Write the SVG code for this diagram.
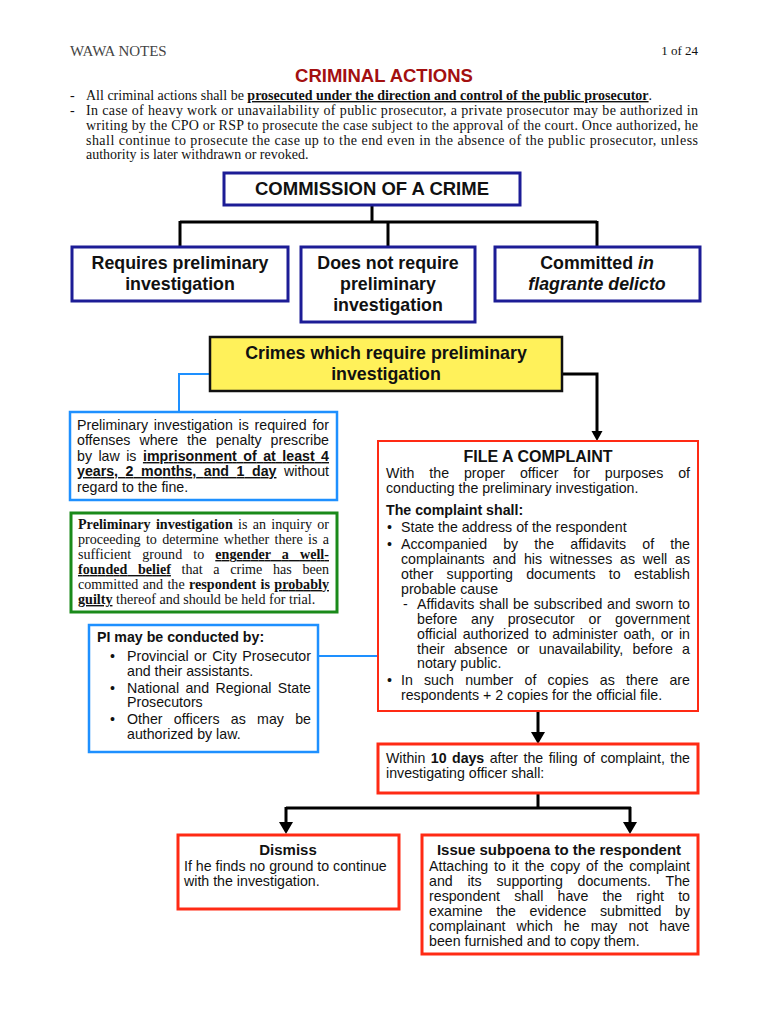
<svg xmlns="http://www.w3.org/2000/svg" width="768" height="1024" viewBox="0 0 768 1024">
<style>
.serif{font-family:"Liberation Serif","Times New Roman",serif;fill:#111}
.sans{font-family:"Liberation Sans",Arial,sans-serif;fill:#111}
.b{font-weight:bold}
.u{text-decoration:underline}
.h{font-size:17.8px;font-weight:bold;text-anchor:middle}
.t{font-size:14.2px}
.navy{fill:#fff;stroke:#1c1c96;stroke-width:3}
.lblue{fill:#fff;stroke:#1e90ff;stroke-width:2.5}
.green{fill:#fff;stroke:#1a8a1a;stroke-width:3}
.red{fill:#fff;stroke:#ff2a14;stroke-width:2}
.red2{fill:#fff;stroke:#ff2a14;stroke-width:3}
.blk{fill:none;stroke:#000;stroke-width:3}
.bl{fill:none;stroke:#1e90ff;stroke-width:2}
</style>
<rect width="768" height="1024" fill="#fff"/>

<g id="header">
<text x="70" y="56" class="serif" font-size="15" style="fill:#444">WAWA NOTES</text>
<text x="698" y="55" class="serif" font-size="13" text-anchor="end">1 of 24</text>
<text x="384" y="82" class="sans b" font-size="18.5" text-anchor="middle" style="fill:#a31010">CRIMINAL ACTIONS</text>
<g class="serif" font-size="14">
<text x="70" y="100">-</text>
<text x="86" y="100">All criminal actions shall be <tspan class="b u">prosecuted under the direction and control of the public prosecutor</tspan>.</text>
<text x="70" y="115">-</text>
<text x="86" y="115" textLength="612" lengthAdjust="spacing">In  case of heavy work or unavailability of public prosecutor, a private prosecutor may be authorized in</text>
<text x="86" y="130" textLength="612" lengthAdjust="spacing">writing by the CPO or RSP to prosecute the case subject to the approval of the court. Once authorized, he</text>
<text x="86" y="145" textLength="612" lengthAdjust="spacing">shall continue to prosecute the case up to the end even in the absence of the public prosecutor, unless</text>
<text x="86" y="159">authority is later withdrawn or revoked.</text>
</g>
</g>

<g id="connectors">
<path class="blk" d="M372,205 V222 M180,222 H597 M180,221 V247 M388,221 V247 M597,221 V247"/>
<path class="bl" d="M210,374 H179 V412"/>
<path class="blk" d="M562,374 H597 V432"/>
<path d="M591.5,431 H602.5 L597,441 Z" fill="#000"/>
<path class="bl" d="M318,656 H379"/>
<path class="blk" d="M538,711 V734"/>
<path d="M531,732 H545 L538,744 Z" fill="#000"/>
<path class="blk" d="M538,793 V808 M286,808 H631 M286,807 V824 M630,807 V824"/>
<path d="M279,822 H293 L286,834 Z" fill="#000"/>
<path d="M623,822 H637 L630,834 Z" fill="#000"/>
</g>

<g id="commission">
<rect class="navy" x="224" y="173" width="296" height="32"/>
<text x="372" y="195" class="sans h" style="font-size:18.5px">COMMISSION OF A CRIME</text>
</g>
<g id="requires">
<rect class="navy" x="72" y="247" width="216" height="54"/>
<text x="180" y="269" class="sans h">Requires preliminary</text>
<text x="180" y="290" class="sans h">investigation</text>
</g>
<g id="doesnot">
<rect class="navy" x="301" y="247" width="174" height="75"/>
<text x="388" y="269" class="sans h">Does not require</text>
<text x="388" y="290" class="sans h">preliminary</text>
<text x="388" y="311" class="sans h">investigation</text>
</g>
<g id="flagrante">
<rect class="navy" x="495" y="247" width="205" height="54"/>
<text x="597" y="269" class="sans h">Committed <tspan font-style="italic">in</tspan></text>
<text x="597" y="290" class="sans h" font-style="italic">flagrante delicto</text>
</g>
<g id="crimes">
<rect x="210" y="337" width="352" height="54" fill="#fff15a" stroke="#111" stroke-width="2.5"/>
<text x="386" y="359" class="sans h">Crimes which require preliminary</text>
<text x="386" y="380" class="sans h">investigation</text>
</g>
<g id="required">
<rect class="lblue" x="70" y="412" width="267" height="88"/>
<g class="sans t">
<text x="77" y="430" word-spacing="1.8" textLength="252" lengthAdjust="spacing">Preliminary investigation is required for</text>
<text x="77" y="445" word-spacing="5" textLength="252" lengthAdjust="spacing">offenses where the penalty prescribe</text>
<text x="77" y="461" word-spacing="2.5" textLength="252" lengthAdjust="spacing">by law is <tspan class="b u">imprisonment of at least 4</tspan></text>
<text x="77" y="476" word-spacing="3.6" textLength="252" lengthAdjust="spacing"><tspan class="b u">years, 2 months, and 1 day</tspan> without</text>
<text x="77" y="492">regard to the fine.</text>
</g>
</g>
<g id="definition">
<rect class="green" x="71" y="513" width="266" height="99"/>
<g class="serif" font-size="14.1">
<text x="78" y="529" word-spacing="1.7" textLength="251" lengthAdjust="spacing"><tspan class="b">Preliminary investigation</tspan> is an inquiry or</text>
<text x="78" y="544" word-spacing="1.8" textLength="251" lengthAdjust="spacing">proceeding to determine whether there is a</text>
<text x="78" y="559" word-spacing="7.5" textLength="251" lengthAdjust="spacing">sufficient ground to <tspan class="b u">engender a well-</tspan></text>
<text x="78" y="574" word-spacing="7.1" textLength="251" lengthAdjust="spacing"><tspan class="b u">founded belief</tspan> that a crime has been</text>
<text x="78" y="589" word-spacing="0.8" textLength="251" lengthAdjust="spacing">committed and the <tspan class="b">respondent is <tspan class="u">probably</tspan></tspan></text>
<text x="78" y="604"><tspan class="b u">guilty</tspan> thereof and should be held for trial.</text>
</g>
</g>
<g id="conductedby">
<rect class="lblue" x="89" y="625" width="229" height="127"/>
<g class="sans t">
<text x="97" y="642" class="b">PI may be conducted by:</text>
<text x="110" y="661">•</text>
<text x="127" y="661" word-spacing="1.6" textLength="184" lengthAdjust="spacing">Provincial or City Prosecutor</text>
<text x="127" y="676">and their assistants.</text>
<text x="110" y="693">•</text>
<text x="127" y="693" word-spacing="2.4" textLength="184" lengthAdjust="spacing">National and Regional State</text>
<text x="127" y="707">Prosecutors</text>
<text x="110" y="724">•</text>
<text x="127" y="724" word-spacing="7.3" textLength="184" lengthAdjust="spacing">Other officers as may be</text>
<text x="127" y="739">authorized by law.</text>
</g>
</g>
<g id="complaint">
<rect class="red" x="378" y="441" width="320" height="270"/>
<text x="538" y="462" class="sans b" font-size="16" text-anchor="middle">FILE A COMPLAINT</text>
<g class="sans t">
<text x="386" y="478" word-spacing="10.9" textLength="304" lengthAdjust="spacing">With the proper officer for purposes of</text>
<text x="386" y="493">conducting the preliminary investigation.</text>
<text x="386" y="515" class="b">The complaint shall:</text>
<text x="387" y="532">•</text>
<text x="401" y="532">State the address of the respondent</text>
<text x="387" y="549">•</text>
<text x="401" y="549" word-spacing="12.2" textLength="289" lengthAdjust="spacing">Accompanied by the affidavits of the</text>
<text x="401" y="564" word-spacing="3.8" textLength="289" lengthAdjust="spacing">complainants and his witnesses as well as</text>
<text x="401" y="579" word-spacing="9.3" textLength="289" lengthAdjust="spacing">other supporting documents to establish</text>
<text x="401" y="594">probable cause</text>
<text x="403" y="609">-</text>
<text x="417" y="609" word-spacing="0.8" textLength="273" lengthAdjust="spacing">Affidavits shall be subscribed and sworn to</text>
<text x="417" y="624" word-spacing="9.8" textLength="273" lengthAdjust="spacing">before any prosecutor or government</text>
<text x="417" y="639" word-spacing="1.7" textLength="273" lengthAdjust="spacing">official authorized to administer oath, or in</text>
<text x="417" y="654" word-spacing="5.2" textLength="273" lengthAdjust="spacing">their absence or unavailability, before a</text>
<text x="417" y="668">notary public.</text>
<text x="387" y="685">•</text>
<text x="401" y="685" word-spacing="7.2" textLength="289" lengthAdjust="spacing">In such number of copies as there are</text>
<text x="401" y="700">respondents + 2 copies for the official file.</text>
</g>
</g>
<g id="within">
<rect class="red2" x="378" y="744" width="320" height="49"/>
<g class="sans t">
<text x="386" y="763" word-spacing="1.6" textLength="304" lengthAdjust="spacing">Within <tspan class="b">10 days</tspan> after the filing of complaint, the</text>
<text x="386" y="778">investigating officer shall:</text>
</g>
</g>
<g id="dismiss">
<rect class="red2" x="178" y="835" width="221" height="74"/>
<text x="288" y="855" class="sans b" font-size="15" text-anchor="middle">Dismiss</text>
<g class="sans t">
<text x="184" y="871">If he finds no ground to continue</text>
<text x="184" y="886">with the investigation.</text>
</g>
</g>
<g id="subpoena">
<rect class="red2" x="422" y="835" width="276" height="119"/>
<text x="559" y="855" class="sans b" font-size="15" text-anchor="middle">Issue subpoena to the respondent</text>
<g class="sans t">
<text x="429" y="871" word-spacing="1.9" textLength="261" lengthAdjust="spacing">Attaching to it the copy of the complaint</text>
<text x="429" y="886" word-spacing="10.8" textLength="261" lengthAdjust="spacing">and its supporting documents. The</text>
<text x="429" y="901" word-spacing="10.2" textLength="261" lengthAdjust="spacing">respondent shall have the right to</text>
<text x="429" y="916" word-spacing="9.6" textLength="261" lengthAdjust="spacing">examine the evidence submitted by</text>
<text x="429" y="931" word-spacing="7.1" textLength="261" lengthAdjust="spacing">complainant which he may not have</text>
<text x="429" y="946">been furnished and to copy them.</text>
</g>
</g>
</svg>
